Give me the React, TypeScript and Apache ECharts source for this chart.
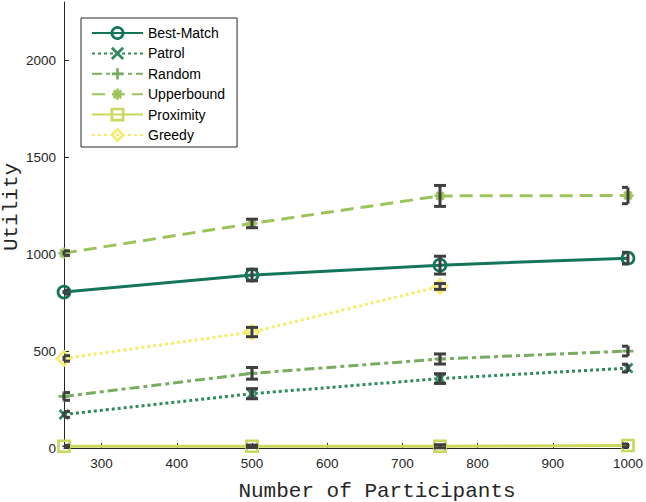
import React, { useEffect, useRef } from "react";
import * as echarts from "echarts";

const participants = [250, 500, 750, 1000];
const xTicks = [300, 400, 500, 600, 700, 800, 900, 1000];
const yTicks = [0, 500, 1000, 1500, 2000];

const bestMatch = [804, 892, 943, 979];
const bestMatchErr = [10, 30, 46, 30];
const patrol = [173, 280, 358, 412];
const patrolErr = [15, 26, 25, 20];
const randomU = [266, 385, 459, 500];
const randomErr = [20, 30, 26, 25];
const upperbound = [1005, 1158, 1300, 1302];
const upperboundErr = [12, 22, 54, 42];
const proximity = [9, 9, 9, 13];
const proximityErr = [5, 6, 8, 8];
const greedy = [462, 598, 833];
const greedyErr = [14, 24, 15];

const seriesNames = ["Best-Match", "Patrol", "Random", "Upperbound", "Proximity", "Greedy"];
const seriesValues = [bestMatch, patrol, randomU, upperbound, proximity, greedy];
const seriesErrors = [bestMatchErr, patrolErr, randomErr, upperboundErr, proximityErr, greedyErr];
const seriesColors = ["#13765a", "#2f8a5d", "#78ac5f", "#9cc45c", "#cad85c", "#f7ec6a"];

const CROSS = "path://M0,0L10,10M10,0L0,10";
const PLUS = "path://M5,0L5,10M0,5L10,5";
const STAR = "path://M5,0L5,10M0,5L10,5M1.6,1.6L8.4,8.4M8.4,1.6L1.6,8.4";

const styles = [
  { symbol: "circle", size: 12, line: "solid" as any },
  { symbol: CROSS, size: 9, line: [3, 3] },
  { symbol: PLUS, size: 11, line: [10, 4, 4, 4] },
  { symbol: STAR, size: 11, line: [13, 7] },
  { symbol: "rect", size: 11, line: "solid" as any },
  { symbol: "diamond", size: 14, line: [3, 3] },
];

export default function App() {
  const ref = useRef<HTMLDivElement>(null);
  useEffect(() => {
    const chart = echarts.init(ref.current!, undefined, { renderer: "svg" });

    const lineSeries = seriesNames.map((name, k) => ({
      name,
      type: "line",
      data: seriesValues[k].map((v, i) => [participants[i], v]),
      symbol: styles[k].symbol,
      symbolSize: styles[k].size,
      showAllSymbol: true,
      clip: false,
      z: 3 + (6 - k) * 0.01,
      lineStyle: { color: seriesColors[k], width: 3, type: styles[k].line, cap: "butt" },
      itemStyle: { color: "rgba(0,0,0,0)", borderColor: seriesColors[k], borderWidth: 2.7 },
      emphasis: { disabled: true },
    }));

    const errData: number[][] = [];
    seriesValues.forEach((vals, k) => {
      vals.forEach((v, i) => {
        const e = seriesErrors[k][i];
        errData.push([participants[i], v - e, v + e]);
      });
    });

    const errSeries = {
      type: "custom",
      name: "err",
      z: 10,
      data: errData,
      encode: { x: 0, y: [1, 2] },
      renderItem: (params: any, api: any) => {
        const x = api.value(0);
        const lo = api.value(1);
        const hi = api.value(2);
        const top = api.coord([x, hi]);
        const bot = api.coord([x, lo]);
        const cs = params.coordSys;
        const xl = Math.max(cs.x, top[0] - 6);
        const xr = Math.min(cs.x + cs.width, top[0] + 6);
        const style = { stroke: "#3f3f3f", lineWidth: 3 };
        return {
          type: "group",
          children: [
            { type: "line", shape: { x1: top[0], y1: top[1], x2: bot[0], y2: bot[1] }, style },
            { type: "line", shape: { x1: xl, y1: top[1], x2: xr, y2: top[1] }, style },
            { type: "line", shape: { x1: xl, y1: bot[1], x2: xr, y2: bot[1] }, style },
          ],
        };
      },
    };

    const axisCommon = {
      axisLine: { show: true, lineStyle: { color: "#262626", width: 1 } },
      splitLine: { show: false },
    };

    const labelCommon = {
      margin: 8,
      color: "#262626",
      fontFamily: "Liberation Sans",
      fontSize: 13.5,
      formatter: (v: number) => String(v),
    };

    chart.setOption({
      animation: false,
      grid: { left: 64, right: 18, top: 2, bottom: 54 },
      xAxis: {
        type: "value",
        min: 250,
        max: 1000,
        ...axisCommon,
        axisTick: { show: true, inside: true, length: 5, customValues: xTicks, lineStyle: { color: "#262626" } },
        axisLabel: { ...labelCommon, customValues: xTicks },
      },
      yAxis: {
        type: "value",
        min: 0,
        max: 2300,
        ...axisCommon,
        axisTick: { show: true, inside: true, length: 5, customValues: yTicks, lineStyle: { color: "#262626" } },
        axisLabel: { ...labelCommon, customValues: yTicks },
      },
      legend: {
        data: seriesNames,
        orient: "vertical",
        left: 81,
        top: 18,
        padding: [8, 12, 5, 10],
        itemGap: 6.4,
        itemWidth: 51,
        itemHeight: 14,
        backgroundColor: "#ffffff",
        borderColor: "#262626",
        borderWidth: 1,
        borderRadius: 0,
        selectedMode: false,
        textStyle: { color: "#000", fontFamily: "Liberation Sans", fontSize: 14, lineHeight: 14 },
        itemStyle: { borderWidth: 2.7 },
      },
      graphic: [
        {
          type: "text",
          x: 377,
          y: 491,
          style: {
            text: "Number of Participants",
            font: '21px "Liberation Mono"',
            fill: "#262626",
            textAlign: "center",
            textVerticalAlign: "middle",
          },
        },
        {
          type: "text",
          x: 11,
          y: 207,
          rotation: Math.PI / 2,
          style: {
            text: "Utility",
            font: '21px "Liberation Mono"',
            fill: "#262626",
            textAlign: "center",
            textVerticalAlign: "middle",
          },
        },
      ],
      series: [...lineSeries, errSeries],
    });
    return () => chart.dispose();
  }, []);
  return (
    <div
      ref={ref}
      style={{ position: "fixed", left: 0, top: 0, width: 646, height: 502, background: "#fff" }}
    />
  );
}
